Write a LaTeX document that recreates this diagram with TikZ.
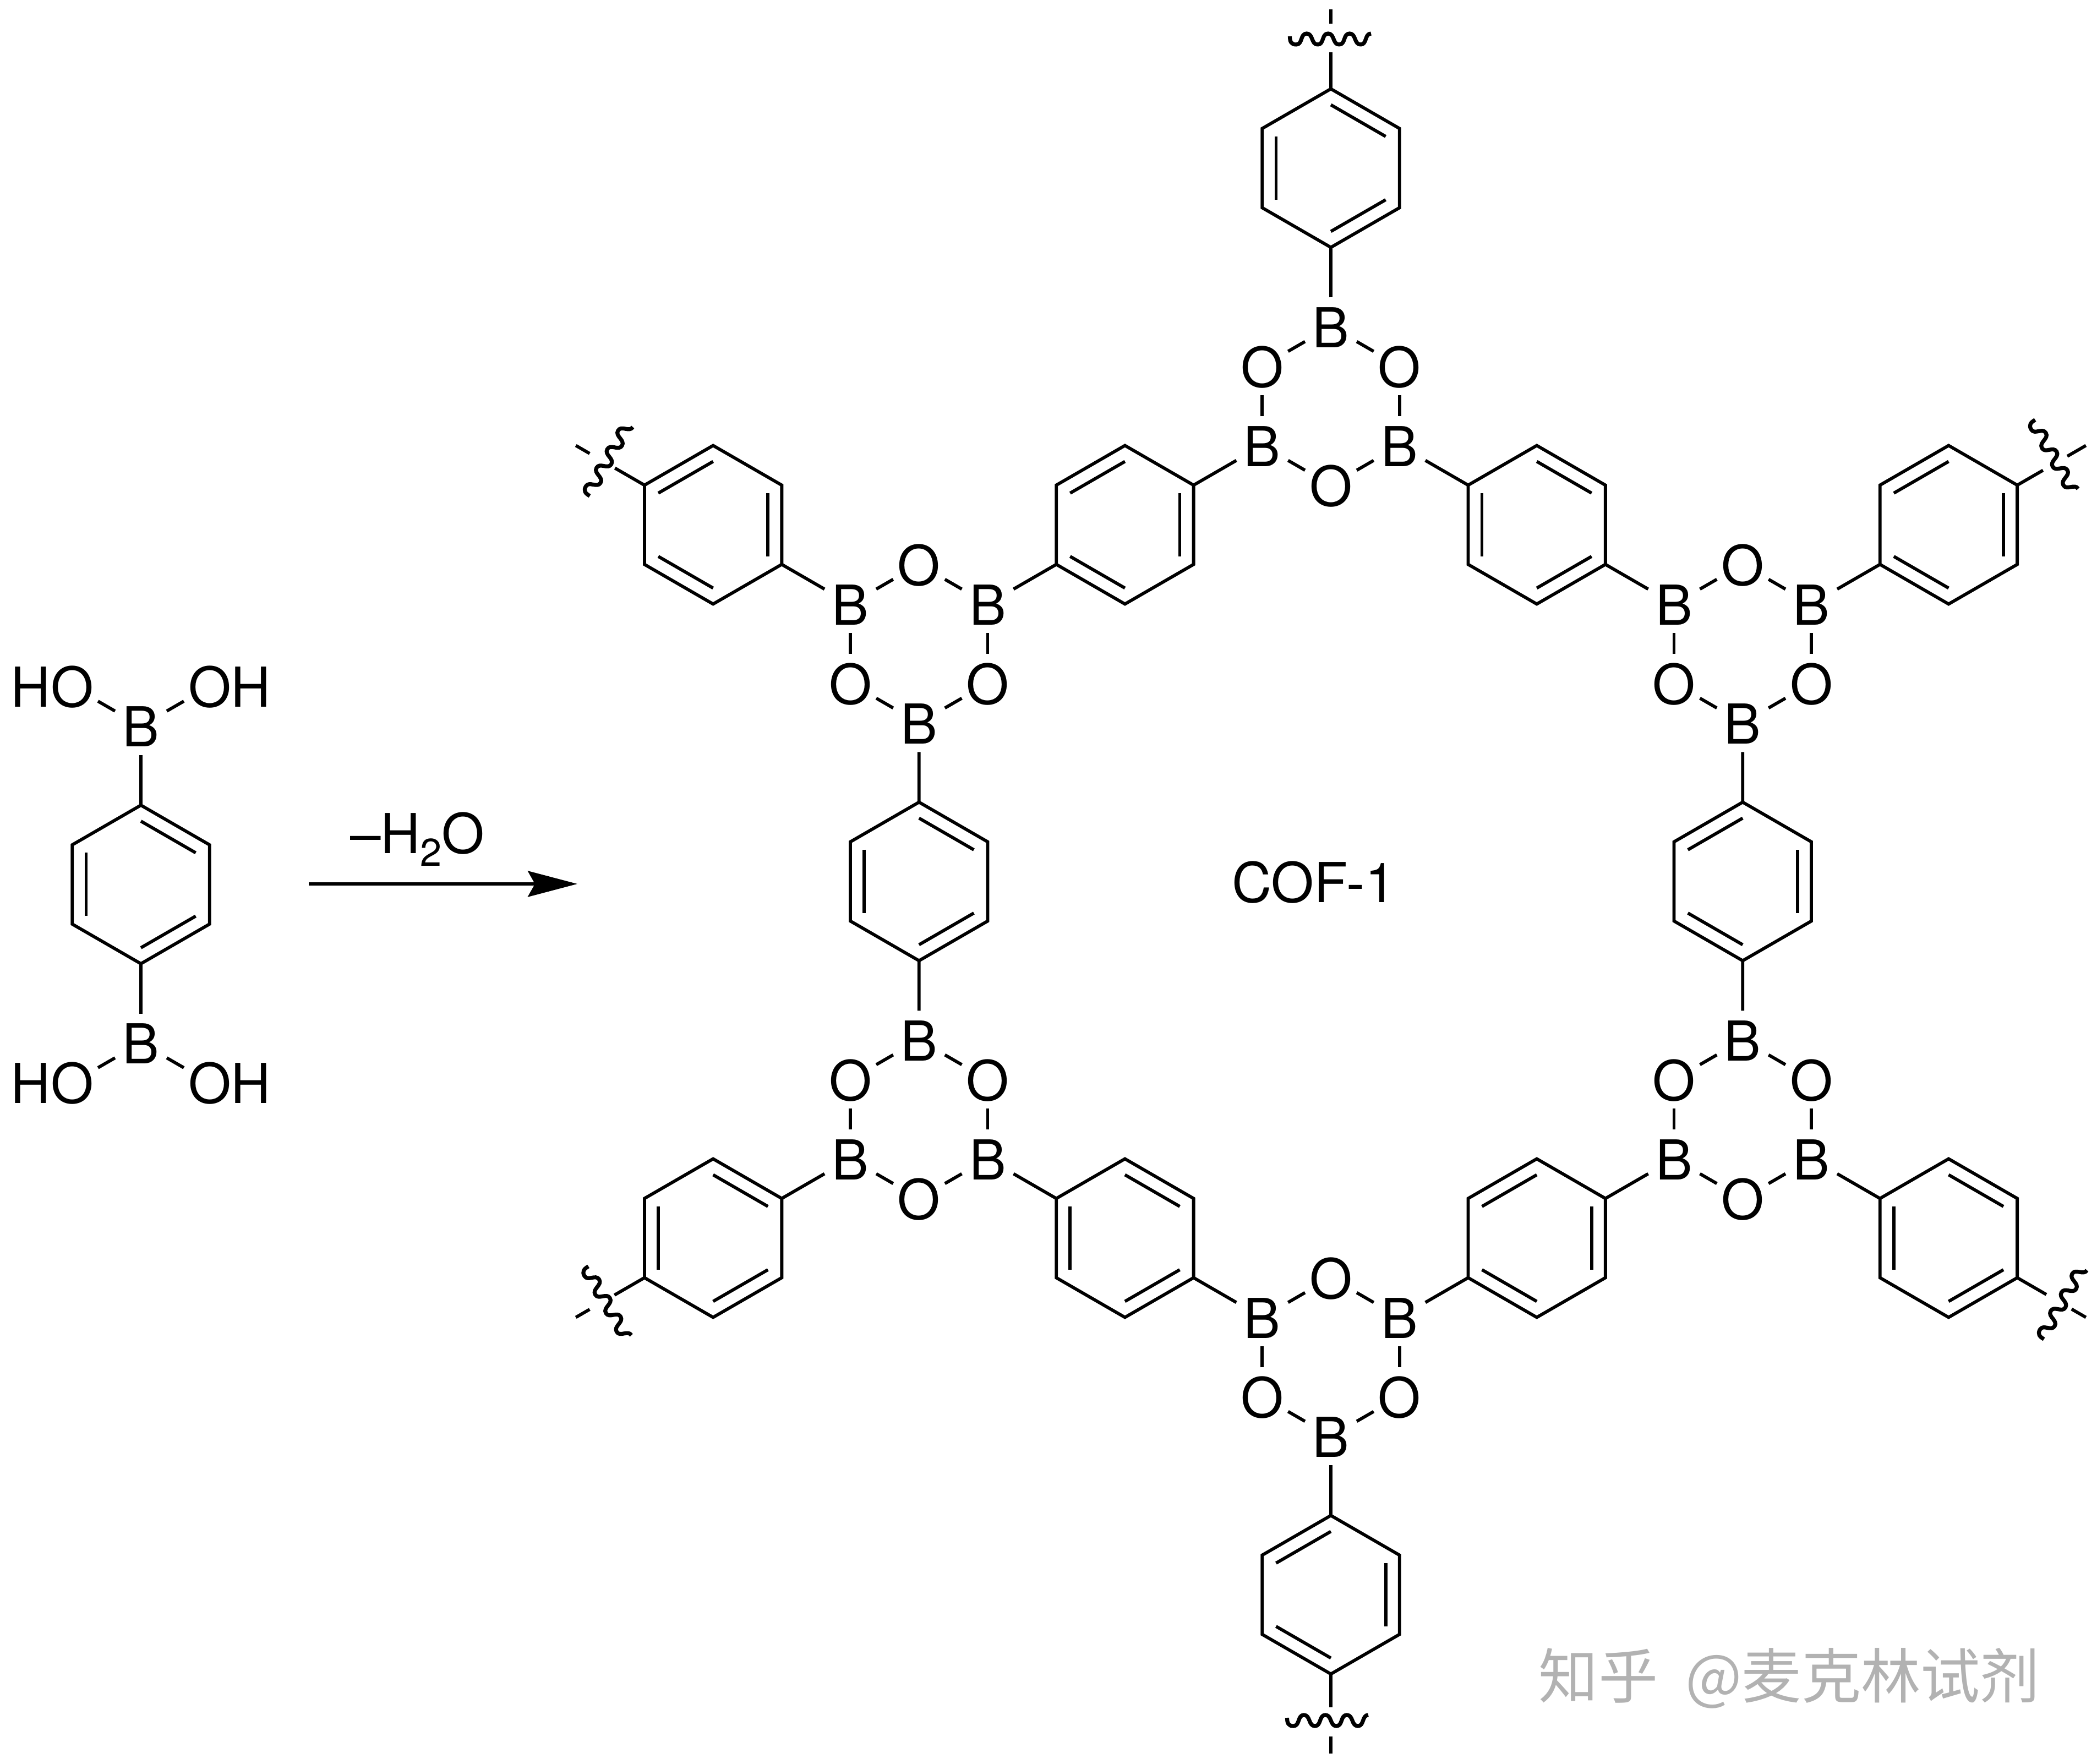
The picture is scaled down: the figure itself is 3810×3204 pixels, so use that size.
\documentclass[tikz,border=0pt]{standalone}
\usepackage{fontspec}
\setmainfont{TeX Gyre Heros}
\newfontfamily\cjkfont{Noto Sans CJK SC}
\usetikzlibrary{calc,arrows.meta}
\tikzset{
  bond/.style={line width=0.58mm,line cap=butt,line join=miter,black},
  wavestroke/.style={line width=0.72mm,line cap=butt,line join=round,black},
  atom/.style={rectangle,inner sep=0pt,outer sep=0pt,minimum width=9.4mm,minimum height=10.6mm,
    text height=7.6mm,text depth=0pt,font=\fontsize{28.45pt}{30pt}\selectfont,text=black},
  caption/.style={inner sep=0pt,outer sep=0pt,font=\fontsize{28.45pt}{30pt}\selectfont,text=black},
  rxnarrow/.style={line width=0.54mm,black,-{Stealth[length=9mm,width=4.7mm,inset=1.3mm]}},
  watermark/.style={inner sep=0pt,outer sep=0pt,text=black!30,font=\cjkfont\fontsize{30.8pt}{32pt}\selectfont}
}
% inner double-bond edges of a phenylene ring
\newcommand{\typeA}{90/30,150/210,330/270}
\newcommand{\typeB}{150/90,30/330,210/270}
\newcommand{\phenylring}[3]{%
  \begin{scope}[shift={(#2)}]
    \foreach \a in {90,150,210,270,330,30}{
      \coordinate (#1v\a) at (\a:144);
      \coordinate (#1i\a) at (\a:115);
    }
    \draw[bond] (#1v90)--(#1v150)--(#1v210)--(#1v270)--(#1v330)--(#1v30)--cycle;
    \foreach \p/\q in #3 {\draw[bond] (#1i\p)--(#1i\q);}
  \end{scope}}
\newcommand{\boroxine}[3]{%
  \begin{scope}[shift={(#2)}]
    \foreach \a/\el in #3 {\node[atom] (#1r\a) at (\a:144) {\el};}
    \draw[bond] (#1r90)--(#1r30);
    \draw[bond] (#1r30)--(#1r330);
    \draw[bond] (#1r330)--(#1r270);
    \draw[bond] (#1r270)--(#1r210);
    \draw[bond] (#1r210)--(#1r150);
    \draw[bond] (#1r150)--(#1r90);
  \end{scope}}
\newcommand{\boxU}{90/B,30/O,330/B,270/O,210/B,150/O}
\newcommand{\boxD}{90/O,30/B,330/O,270/B,210/O,150/B}
% truncated bond: ring vertex, direction, inner stub length, start of outer stub
\newcommand{\cutbond}[4]{%
  \coordinate (#1s1) at ($(#1)+(#2:#3)$);
  \coordinate (#1s2) at ($(#1)+(#2:#4)$);
  \coordinate (#1s3) at ($(#1)+(#2:144)$);
  \draw[bond] (#1)--(#1s1);
  \draw[bond] (#1s2)--(#1s3);}
\newcommand{\wavecut}[3]{%
  \draw[wavestroke,shift={(#1)},rotate=#2,yscale=#3]
    (-73.5,5) .. controls (-73.5,-5) and (-71,-10) .. (-62,-10)
    .. controls (-50,-10) and (-55,10) .. (-43,10)
    .. controls (-31,10) and (-35,-10) .. (-23,-10)
    .. controls (-11,-10) and (-16,10) .. (-4,10)
    .. controls (8,10) and (4,-10) .. (16,-10)
    .. controls (28,-10) and (23,10) .. (35,10)
    .. controls (47,10) and (43,-10) .. (55,-10)
    .. controls (67,-10) and (62,10) .. (74,10);}
\begin{document}
\begin{tikzpicture}[x=0.1mm,y=0.1mm]
\useasboundingbox (0,0) rectangle (3810,3204);
\fill[white] (0,0) rectangle (3810,3204);

% ---- monomer ----
\phenylring{m}{256,1597}{\typeA}
\node[atom] (mbt) at (256,1885) {B};
\node[atom] (mbb) at (256,1309) {B};
\node[atom] (mo1) at (131,1957) {\llap{H}O};
\node[atom] (mo2) at (381,1957) {O\rlap{H}};
\node[atom] (mo3) at (131,1237) {\llap{H}O};
\node[atom] (mo4) at (381,1237) {O\rlap{H}};
\draw[bond] (mbt)--(mv90);
\draw[bond] (mbb)--(mv270);
\draw[bond] (mbt)--(mo1);
\draw[bond] (mbt)--(mo2);
\draw[bond] (mbb)--(mo3);
\draw[bond] (mbb)--(mo4);

% ---- arrow ----
\coordinate (arrowstart) at (561,1598);
\coordinate (arrowend) at (1049,1598);
\draw[rxnarrow] (arrowstart)--(arrowend);
\node[caption,anchor=base west] (water) at (636,1653)
  {–H\raisebox{-2.3mm}{\fontsize{20pt}{20pt}\selectfont 2}O};

% ---- COF-1 ----
\begin{scope}[shift={(2418,1602.5)}]
  \node[caption,anchor=base] (cof) at (-31,-38) {COF-1};
  \boroxine{bT}{90:864}{\boxU}
  \boroxine{bUR}{30:864}{\boxD}
  \boroxine{bLR}{-30:864}{\boxU}
  \boroxine{bB}{-90:864}{\boxD}
  \boroxine{bLL}{210:864}{\boxU}
  \boroxine{bUL}{150:864}{\boxD}
  \phenylring{pUR}{60:748.25}{\typeA}
  \phenylring{pR}{0:748.25}{\typeB}
  \phenylring{pLR}{-60:748.25}{\typeB}
  \phenylring{pLL}{-120:748.25}{\typeA}
  \phenylring{pL}{180:748.25}{\typeA}
  \phenylring{pUL}{120:748.25}{\typeB}
  \phenylring{oT}{90:1296}{\typeA}
  \phenylring{oUR}{30:1296}{\typeB}
  \phenylring{oLR}{-30:1296}{\typeA}
  \phenylring{oB}{-90:1296}{\typeB}
  \phenylring{oLL}{210:1296}{\typeA}
  \phenylring{oUL}{150:1296}{\typeB}
\end{scope}
\draw[bond] (bTr90)--(oTv270);
\draw[bond] (bTr210)--(pULv30);
\draw[bond] (bTr330)--(pURv150);
\draw[bond] (bURr150)--(pURv330);
\draw[bond] (bURr30)--(oURv210);
\draw[bond] (bURr270)--(pRv90);
\draw[bond] (bLRr90)--(pRv270);
\draw[bond] (bLRr210)--(pLRv30);
\draw[bond] (bLRr330)--(oLRv150);
\draw[bond] (bBr30)--(pLRv210);
\draw[bond] (bBr150)--(pLLv330);
\draw[bond] (bBr270)--(oBv90);
\draw[bond] (bLLr90)--(pLv270);
\draw[bond] (bLLr330)--(pLLv150);
\draw[bond] (bLLr210)--(oLLv30);
\draw[bond] (bULr270)--(pLv90);
\draw[bond] (bULr30)--(pULv210);
\draw[bond] (bULr150)--(oULv330);

% ---- truncated bonds ----
\cutbond{oTv90}{90}{66}{118}
\cutbond{oBv270}{270}{60}{113}
\cutbond{oULv150}{150}{62}{115}
\cutbond{oURv30}{30}{54}{105}
\cutbond{oLLv210}{210}{63}{115}
\cutbond{oLRv330}{330}{61}{114}
\wavecut{2417,3133}{0}{1}
\wavecut{2412,78}{0}{1}
\wavecut{1104,2369}{60}{-1}
\wavecut{3730,2375}{-60}{1}
\wavecut{1101.5,837}{-60}{1}
\wavecut{3746,837}{60}{-1}

% ---- watermark ----
\node[watermark] (mark) at (3251,155) {知乎\hspace{5mm}@麦克林试剂};
\end{tikzpicture}
\end{document}
